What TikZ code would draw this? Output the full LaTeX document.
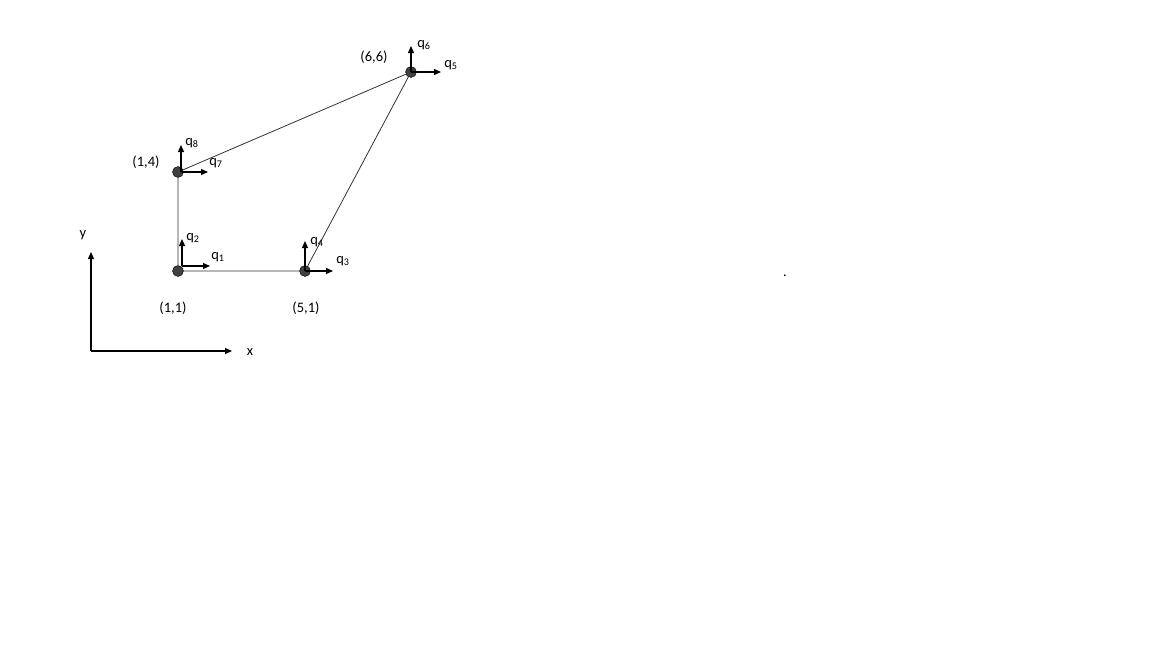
\documentclass[tikz,border=0pt]{standalone}
\usepackage{fontspec}
\setmainfont{Carlito}
\usetikzlibrary{arrows.meta}

\begin{document}
\begin{tikzpicture}[x=1pt,y=-1pt,
        joint/.style={circle,draw=black,fill=black!75,inner sep=0pt,minimum size=11pt},
        dof/.style={line width=1.2pt,-{Triangle[length=7pt,width=6pt]}},
        member/.style={draw=black!80,line width=0.8pt},
        lbl/.style={font=\fontsize{14.5}{17}\selectfont,inner sep=0pt}]
        \useasboundingbox (0,0) rectangle (1152,648);
        % axes
        \coordinate (o) at (91,351);
        \coordinate (xend) at (232,351);
        \coordinate (yend) at (91,252);
        \draw[dof] (o) -- (xend);
        \draw[dof] (o) -- (yend);
        \node[lbl] (xlbl) at (250,352) {x};
        \node[lbl] (ylbl) at (83,235) {y};
        % joints and members
        \node[joint] (n11) at (178,271) {};
        \node[joint] (n51) at (305,271) {};
        \node[joint] (n14) at (178,172) {};
        \node[joint] (n66) at (411,72) {};
        \draw[member] (n14) -- (n11) -- (n51) -- (n66) -- (n14);
        \node[lbl] (c11) at (173,308) {(1,1)};
        \node[lbl] (c51) at (306,308) {(5,1)};
        \node[lbl] (c14) at (146,162) {(1,4)};
        \node[lbl] (c66) at (374,57) {(6,6)};
        % degrees of freedom
        \coordinate (o11) at (182,266);
        \draw[dof] (o11) -- ++(28,0) coordinate (q1end);
        \draw[dof] (o11) -- ++(0,-27) coordinate (q2end);
        \draw[dof] (n51.center) -- ++(28,0) coordinate (q3end);
        \draw[dof] (n51.center) -- ++(0,-30) coordinate (q4end);
        \draw[dof] (n66.center) -- ++(30,0) coordinate (q5end);
        \draw[dof] (n66.center) -- ++(0,-26) coordinate (q6end);
        \coordinate (o14) at (181,172);
        \draw[dof] (o14) -- ++(27,0) coordinate (q7end);
        \draw[dof] (o14) -- ++(0,-27) coordinate (q8end);
        \node[lbl] (q1) at (218,257) {q\textsubscript{1}};
        \node[lbl] (q2) at (193,238) {q\textsubscript{2}};
        \node[lbl] (q3) at (343,261) {q\textsubscript{3}};
        \node[lbl] (q4) at (317,242) {q\textsubscript{4}};
        \node[lbl] (q5) at (451,65) {q\textsubscript{5}};
        \node[lbl] (q6) at (424,45) {q\textsubscript{6}};
        \node[lbl] (q7) at (216,163) {q\textsubscript{7}};
        \node[lbl] (q8) at (192,143) {q\textsubscript{8}};
        \node[lbl] (dot) at (785,276) {.};
\end{tikzpicture}
\end{document}
